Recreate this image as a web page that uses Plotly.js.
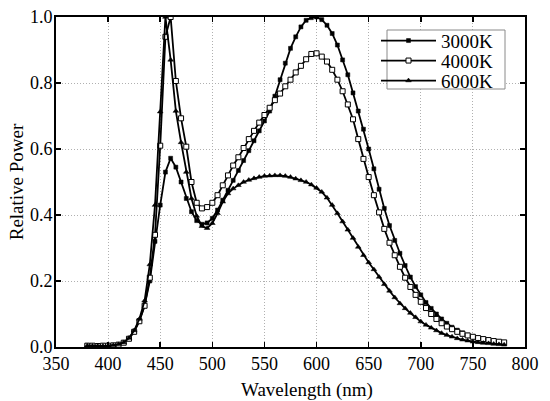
<!DOCTYPE html>
<html>
<head>
<meta charset="utf-8">
<script src="https://cdn.plot.ly/plotly-3.0.1.min.js"></script>
<style>html,body{margin:0;padding:0;background:#fff;}#chart{width:550px;height:401px;}</style>
</head>
<body>
<div id="chart"></div>
<script>
// Wavelength (nm), 5 nm steps from 380 to 780
var wavelength = [];
for (var w = 380; w <= 780; w += 5) wavelength.push(w);

var series3000K = [
0.005,0.004,0.004,0.004,0.005,0.005,0.008,0.014,0.026,0.048,
0.080,0.125,0.200,0.320,0.430,0.530,0.572,0.545,0.500,0.450,
0.410,0.383,0.372,0.376,0.390,0.415,0.445,0.475,0.505,0.535,
0.565,0.595,0.625,0.655,0.685,0.715,0.760,0.810,0.860,0.905,
0.940,0.970,0.990,0.998,1.000,0.992,0.975,0.950,0.915,0.870,
0.825,0.770,0.715,0.660,0.600,0.540,0.478,0.420,0.368,0.323,
0.284,0.247,0.212,0.183,0.158,0.135,0.117,0.100,0.085,0.072,
0.060,0.051,0.043,0.036,0.031,0.026,0.021,0.018,0.015,0.012,
0.010];

var series4000K = [
0.004,0.004,0.003,0.004,0.004,0.005,0.007,0.013,0.025,0.046,
0.078,0.125,0.210,0.340,0.610,0.940,1.000,0.806,0.693,0.607,
0.500,0.437,0.420,0.424,0.437,0.460,0.490,0.520,0.550,0.575,
0.603,0.630,0.655,0.680,0.703,0.725,0.748,0.768,0.790,0.810,
0.832,0.852,0.872,0.888,0.890,0.880,0.865,0.840,0.810,0.775,
0.735,0.690,0.630,0.570,0.515,0.460,0.408,0.358,0.316,0.278,
0.243,0.210,0.182,0.158,0.137,0.118,0.100,0.085,0.072,0.062,
0.054,0.046,0.040,0.035,0.031,0.027,0.024,0.021,0.018,0.016,
0.014];

var series6000K = [
0.004,0.003,0.003,0.003,0.004,0.005,0.008,0.014,0.027,0.050,
0.085,0.140,0.250,0.430,0.713,1.000,0.870,0.715,0.620,0.530,
0.450,0.397,0.366,0.360,0.375,0.405,0.440,0.465,0.480,0.490,
0.500,0.506,0.511,0.515,0.518,0.519,0.520,0.520,0.518,0.515,
0.510,0.505,0.500,0.492,0.482,0.470,0.452,0.430,0.405,0.380,
0.355,0.330,0.303,0.278,0.256,0.235,0.212,0.190,0.170,0.150,
0.132,0.117,0.103,0.090,0.077,0.067,0.058,0.050,0.042,0.036,
0.031,0.026,0.022,0.019,0.016,0.014,0.012,0.011,0.009,0.008,
0.007];

var seriesNames = ['3000K', '4000K', '6000K'];
var xTicks = [350, 400, 450, 500, 550, 600, 650, 700, 750, 800];
var yTicks = [0.0, 0.2, 0.4, 0.6, 0.8, 1.0];

var serif = 'Liberation Serif, Times New Roman, serif';

// pixel -> paper helpers (plot area 56..525 x, 17..347 y)
function px(xp) { return (xp - 56) / 469; }
function py(yp) { return (347 - yp) / 330; }

var traces = [
  {x: wavelength, y: series3000K, name: seriesNames[0], mode: 'lines+markers', legend: 'legend',
   line: {color: '#000', width: 1.8},
   marker: {symbol: 'square', size: 4, color: '#000', line: {color: '#000', width: 0.5}}},
  {x: wavelength, y: series4000K, name: seriesNames[1], mode: 'lines+markers', legend: 'legend2',
   line: {color: '#000', width: 1.8},
   marker: {symbol: 'square', size: 5, color: '#fff', line: {color: '#000', width: 1}}},
  {x: wavelength, y: series6000K, name: seriesNames[2], mode: 'lines+markers', legend: 'legend3',
   line: {color: '#000', width: 1.8},
   marker: {symbol: 'triangle-up', size: 5, color: '#000', line: {color: '#000', width: 0.5}}}
];

var axisCommon = {
  showline: true, linecolor: '#000', linewidth: 2, mirror: 'allticks',
  ticks: 'inside', ticklen: 5, tickwidth: 1.5, tickcolor: '#000',
  showgrid: true, gridcolor: '#b0b0b0', gridwidth: 1, griddash: '1px,2px',
  zeroline: false,
  tickfont: {family: serif, size: 18, color: '#000'}
};

function legendAt(yCenter) {
  return {
    x: px(376), y: py(yCenter), xanchor: 'left', yanchor: 'middle',
    bgcolor: 'rgba(0,0,0,0)', borderwidth: 0,
    font: {family: serif, size: 19, color: '#000'},
    itemwidth: 55
  };
}

var layout = {
  width: 550, height: 401,
  margin: {l: 56, r: 25, t: 17, b: 54},
  paper_bgcolor: '#fff', plot_bgcolor: '#fff',
  showlegend: true,
  legend: legendAt(40.7),
  legend2: legendAt(60.7),
  legend3: legendAt(80.7),
  xaxis: Object.assign({}, axisCommon, {
    range: [350, 800], tickvals: xTicks, ticktext: xTicks.map(String),
    ticklabelstandoff: -1
  }),
  yaxis: Object.assign({}, axisCommon, {
    range: [0, 1], tickvals: yTicks, ticktext: yTicks.map(function(v){return v.toFixed(1);}),
    ticklabelstandoff: -2,
    title: {text: 'Relative Power', font: {family: serif, size: 19, color: '#000'}, standoff: 1}
  }),
  shapes: [
    {type: 'rect', xref: 'paper', yref: 'paper', x0: px(387), x1: px(505), y0: py(89), y1: py(30),
     line: {color: '#8a8a8a', width: 1}, fillcolor: '#fff', layer: 'above'}
  ],
  annotations: [
    {text: 'Wavelength (nm)', xref: 'paper', yref: 'paper',
     x: px(307), y: py(390), xanchor: 'center', yanchor: 'middle',
     showarrow: false, font: {family: serif, size: 19, color: '#000'}}
  ]
};

Plotly.newPlot('chart', traces, layout, {displayModeBar: false, staticPlot: true});
</script>
</body>
</html>
